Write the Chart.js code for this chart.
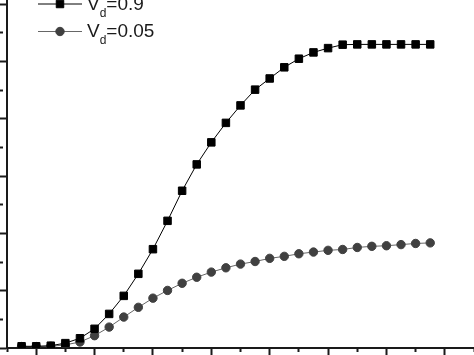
<!DOCTYPE html>
<html>
<head>
<meta charset="utf-8">
<script src="https://cdn.jsdelivr.net/npm/chart.js@4/dist/chart.umd.min.js"></script>
<style>
html,body{margin:0;padding:0;background:#fff;}
canvas{display:block;}
</style>
</head>
<body>
<canvas id="c" width="474" height="355"></canvas>
<script>
// X values (gate voltage, arbitrary units)
const xValues = [-0.05,0.00,0.05,0.10,0.15,0.20,0.25,0.30,0.35,0.40,0.45,0.50,0.55,0.60,0.65,0.70,0.75,0.80,0.85,0.90,0.95,1.00,1.05,1.10,1.15,1.20,1.25,1.30,1.35];
// Series V_d = 0.9 (squares)
const seriesVd09 = [0.06,0.06,0.08,0.17,0.34,0.67,1.19,1.82,2.59,3.45,4.44,5.49,6.41,7.18,7.86,8.47,9.02,9.41,9.80,10.10,10.32,10.47,10.59,10.60,10.60,10.60,10.60,10.60,10.60];
// Series V_d = 0.05 (circles)
const seriesVd005 = [0.05,0.05,0.06,0.11,0.21,0.43,0.73,1.08,1.42,1.74,2.01,2.26,2.47,2.65,2.80,2.93,3.02,3.13,3.20,3.29,3.35,3.41,3.44,3.51,3.55,3.57,3.61,3.65,3.67];
// Legend labels: main symbol, subscript, rest
const legendLabels = [["V","d","=0.9"],["V","d","=0.05"]];

const toPts = (ys) => xValues.map((x,i)=>({x:x,y:ys[i]}));

const legendPlugin = {
  id:'customLegend',
  afterDraw(chart){
    const ctx = chart.ctx;
    const rows = [
      {y:4, line:'#000', fill:'#000', style:'rect', r:5.3},
      {y:31.5, line:'#666', fill:'#404040', style:'circle', r:4.2}
    ];
    ctx.save();
    rows.forEach((row,i)=>{
      ctx.strokeStyle = row.line;
      ctx.lineWidth = 1;
      ctx.beginPath();
      ctx.moveTo(38,row.y); ctx.lineTo(82,row.y);
      ctx.stroke();
      ctx.fillStyle = row.fill; ctx.strokeStyle = row.fill;
      ctx.beginPath();
      if(row.style==='rect'){ const s=Math.SQRT1_2*row.r; ctx.rect(60-s,row.y-s,2*s,2*s);} else { ctx.arc(60,row.y,row.r,0,Math.PI*2);}
      ctx.fill(); ctx.stroke();
      const base = row.y + 5.5;
      const lab = legendLabels[i];
      ctx.fillStyle = '#1a1a1a';
      ctx.textBaseline = 'alphabetic';
      ctx.font = '19px "Liberation Sans", Arial, sans-serif';
      let x = 87;
      ctx.fillText(lab[0], x, base);
      x += ctx.measureText(lab[0]).width;
      ctx.font = '12px "Liberation Sans", Arial, sans-serif';
      ctx.fillText(lab[1], x, base + 7);
      x += ctx.measureText(lab[1]).width;
      ctx.font = '19px "Liberation Sans", Arial, sans-serif';
      ctx.fillText(lab[2], x, base);
    });
    ctx.restore();
  }
};

const isMajorX = (v) => Math.round(v*10) % 2 === 0;
const isMajorY = (v) => Math.round(v) % 2 === 0;

new Chart(document.getElementById('c'), {
  type:'line',
  data:{
    datasets:[
      {
        label:'Vd=0.9',
        data: toPts(seriesVd09),
        borderColor:'#000',
        borderWidth:1,
        pointStyle:'rect',
        pointRadius:5.3,
        pointBorderWidth:1,
        pointBackgroundColor:'#000',
        pointBorderColor:'#000',
        tension:0
      },
      {
        label:'Vd=0.05',
        data: toPts(seriesVd005),
        borderColor:'#666',
        borderWidth:1,
        pointStyle:'circle',
        pointRadius:4.2,
        pointBorderWidth:1,
        pointBackgroundColor:'#404040',
        pointBorderColor:'#404040',
        tension:0
      }
    ]
  },
  options:{
    responsive:false,
    animation:false,
    devicePixelRatio:1,
    layout:{padding:0, autoPadding:false},
    plugins:{legend:{display:false},tooltip:{enabled:false}},
    scales:{
      x:{
        type:'linear',
        min:-0.1, max:1.5,
        ticks:{display:false, stepSize:0.1, includeBounds:false},
        border:{display:true, color:'#1a1a1a', width:2},
        grid:{
          drawOnChartArea:false, drawTicks:true, tickLength:7,
          tickColor:'#1a1a1a', tickWidth:2,
          tickBorderDash:(c)=> (c.tick && isMajorX(c.tick.value)) ? [] : [3,20]
        }
      },
      y:{
        type:'linear',
        min:0, max:12.15,
        ticks:{display:false, stepSize:1, includeBounds:false},
        border:{display:true, color:'#1a1a1a', width:2},
        grid:{
          drawOnChartArea:false, drawTicks:true, tickLength:7,
          tickColor:'#1a1a1a', tickWidth:2,
          tickBorderDash:(c)=> (c.tick && isMajorY(c.tick.value)) ? [] : [3,20]
        }
      }
    }
  },
  plugins:[legendPlugin]
});
</script>
</body>
</html>
